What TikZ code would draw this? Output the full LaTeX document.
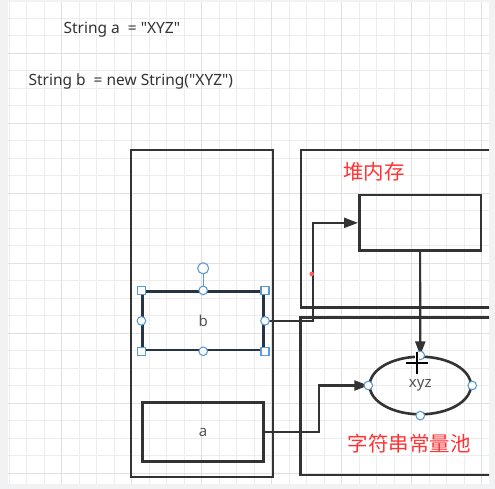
\documentclass[tikz,border=0pt]{standalone}
\usepackage{fontspec}
\setmainfont{Noto Sans}[Ligatures=TeXOff]
\newfontfamily\cjk{Noto Sans CJK SC}
\usetikzlibrary{arrows.meta,shapes.geometric}

\definecolor{outside}{HTML}{F1F2F4}
\definecolor{gridminor}{HTML}{EDEDED}
\definecolor{gridmajor}{HTML}{E0E0E0}
\definecolor{ink}{HTML}{333333}
\definecolor{labelgrey}{HTML}{555555}
\definecolor{selblue}{HTML}{263445}
\definecolor{handleblue}{HTML}{5B9BD5}
\definecolor{memred}{HTML}{FF3333}

\tikzset{
	box/.style={draw=ink,line width=2.6pt,rectangle,inner sep=0pt},
	link/.style={draw=ink,line width=2.1pt,-{Triangle[length=14pt,width=10pt]}},
	code/.style={inner sep=0pt,text=ink,font=\fontsize{15.5}{18}\selectfont},
	memlabel/.style={inner sep=0pt,text=memred,font=\cjk\fontsize{20.5}{24}\selectfont},
	handle/.style={draw=handleblue,fill=white,line width=1.1pt}
}

\begin{document}
\begin{tikzpicture}[x=1pt,y=-1pt]
		\useasboundingbox (0,0) rectangle (495,489);
		\fill[outside] (0,0) rectangle (495,489);
		\fill[white] (8,2) rectangle (489,484);

		% grid
		\begin{scope}
			\clip (8,2) rectangle (489,484);
			\foreach \k in {0,...,27} {
				\draw[gridminor,line width=1pt] ({9.2+17.5*\k},2) -- ++(0,482);
				\draw[gridminor,line width=1pt] (8,{0.7+17.5*\k}) -- ++(481,0);
			}
			\foreach \k in {0,...,6} {
				\draw[gridmajor,line width=1pt] ({61.3+70*\k},2) -- ++(0,482);
				\draw[gridmajor,line width=1pt] (8,{53.2+70*\k}) -- ++(481,0);
			}
		\end{scope}

		\node[code,anchor=base west] (sa) at (63.3,33.3) {String a~~= "XYZ"};
		\node[code,anchor=base west] (sb) at (28.3,85.3) {String b~~= new String("XYZ")};

		\begin{scope}
			\clip (8,2) rectangle (489,484);
			\node[box,minimum width=142pt,minimum height=327pt] (stack) at (202,313.5) {};
			\node[box,minimum width=209pt,minimum height=157.7pt] (heap) at (405.5,228.85) {};
			\node[box,minimum width=209pt,minimum height=157.3pt] (pool) at (405.2,396.35) {};
		\end{scope}

		\node[memlabel] (heaplbl) at (374,171.7) {堆内存};
		\node[memlabel] (poollbl) at (409.2,444) {字符串常量池};

		\begin{scope}[every node/.style={box,text=labelgrey,font=\fontsize{15}{18}\selectfont}]
			\node[minimum width=121.7pt,minimum height=55.7pt] (obj) at (420.15,222.85) {};
			\node[draw=selblue,minimum width=121pt,minimum height=58.3pt] (b) at (203.2,320.85) {b};
			\node[minimum width=121.4pt,minimum height=58.6pt] (a) at (203,432) {a};
			\node[ellipse,minimum width=101.3pt,minimum height=57.6pt] (str) at (420.3,385.5) {xyz};
		\end{scope}

		\draw[link] (b.east) -- ++(48,0) |- (obj.west);
		\draw[link] (obj.south) -- (str.north);
		\draw[link] (a.east) -- ++(53.6,0) |- (str.west);
		\fill[memred!80] (311.7,274) circle (2.3pt);

		% selection handles
		\coordinate (rot) at (203.2,268.3);
		\draw[handleblue,line width=1.1pt] (b.north) -- (rot);
		\draw[handle] (rot) circle (5.5pt);
		\foreach \c in {north west,north east,south west,south east}
			\draw[handle] ([xshift=-4pt,yshift=-4pt]b.\c) rectangle ++(8pt,8pt);
		\foreach \c in {north,south,east,west}
			\draw[handle] (b.\c) circle (4.3pt);
		\foreach \c in {north,south,east,west}
			\draw[handle] (str.\c) circle (4.3pt);

		% cursor
		\coordinate (cur) at (416.7,363.3);
		\draw[white,line width=4pt] ([xshift=-11pt]cur) -- ([xshift=11pt]cur) ([yshift=-11pt]cur) -- ([yshift=11pt]cur);
		\draw[black,line width=2pt] ([xshift=-11pt]cur) -- ([xshift=11pt]cur) ([yshift=-11pt]cur) -- ([yshift=11pt]cur);
\end{tikzpicture}
\end{document}
